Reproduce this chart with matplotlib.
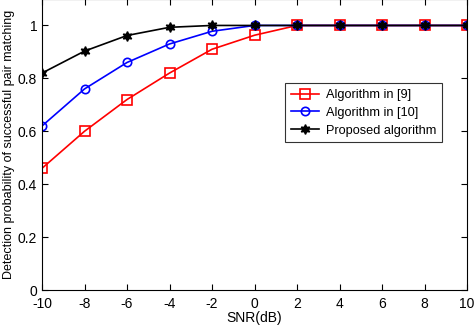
import matplotlib.pyplot as plt

plt.rcParams['font.family'] = ['Liberation Sans', 'DejaVu Sans']
plt.rcParams['axes.unicode_minus'] = False

snr = [-10, -8, -6, -4, -2, 0, 2, 4, 6, 8, 10]
alg9 = [0.46, 0.60, 0.72, 0.82, 0.91, 0.963, 1.0, 1.0, 1.0, 1.0, 1.0]
alg10 = [0.62, 0.76, 0.86, 0.93, 0.978, 1.0, 1.0, 1.0, 1.0, 1.0, 1.0]
proposed = [0.82, 0.903, 0.962, 0.993, 1.0, 1.0, 1.0, 1.0, 1.0, 1.0, 1.0]

W, H = 474, 325
fig = plt.figure(figsize=(W / 100, H / 100), dpi=100)
# axes spans from x=42..467 px, y(0)=290 px, y(1.1) ~ top edge
ax = fig.add_axes([42 / W, 35 / H, 425 / W, 291 / H])

ax.plot(snr, alg9, color='red', marker='s', mfc='none', ms=7, mew=1.2,
        lw=1.2, label='Algorithm in [9]')
ax.plot(snr, alg10, color='blue', marker='o', mfc='none', ms=6, mew=1.2,
        lw=1.2, label='Algorithm in [10]')
ax.plot(snr, proposed, color='black', marker=(6, 1, 0), ms=7, mew=1.0,
        lw=1.2, label='Proposed algorithm')

ax.set_xlim(-10, 10)
ax.set_ylim(0, 1.1)
ax.set_xticks(snr)
ax.set_yticks([0, 0.2, 0.4, 0.6, 0.8, 1.0])
ax.set_yticklabels(['0', '0.2', '0.4', '0.6', '0.8', '1'])
ax.tick_params(direction='in', top=True, right=True, labelsize=10, length=4)
ax.tick_params(axis='x', pad=5)
ax.set_xlabel('SNR(dB)', fontsize=10, labelpad=0)
ax.set_ylabel('Detection probability of successful pair matching', fontsize=9, labelpad=2)

leg = ax.legend(loc='upper left', bbox_to_anchor=((279 - 42) / 425, (290 - 77) / 291),
                fontsize=9.2, frameon=True, fancybox=False, edgecolor='black',
                handlelength=2.2, handletextpad=0.5, borderpad=0.45, labelspacing=0.45)
leg.get_frame().set_linewidth(0.8)

fig.savefig('out.png', dpi=100)
